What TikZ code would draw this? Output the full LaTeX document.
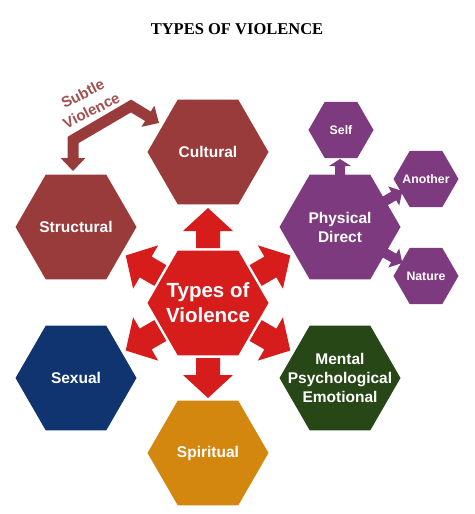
\documentclass[tikz,border=0pt]{standalone}
\usepackage{fontspec}
\setmainfont{Liberation Sans}
\newfontfamily\titlefont{Liberation Serif}
\usetikzlibrary{shapes.geometric,arrows.meta}
\definecolor{culred}{HTML}{9A3B3B}
\definecolor{ctrred}{HTML}{D71C1C}
\definecolor{purp}{HTML}{7E3A7F}
\definecolor{navy}{HTML}{103470}
\definecolor{dgreen}{HTML}{274716}
\definecolor{orng}{HTML}{D4870F}
\definecolor{subtletxt}{HTML}{A24F4F}
\begin{document}
\begin{tikzpicture}[x=1pt,y=-1pt,
  hexbig/.style={regular polygon, regular polygon sides=6, minimum size=121pt, inner sep=0pt, outer sep=0pt, draw=none},
  hexsmall/.style={regular polygon, regular polygon sides=6, minimum size=65pt, inner sep=0pt, outer sep=0pt, draw=none},
  lbl/.style={text=white, font=\bfseries\fontsize{15.5}{19}\selectfont, align=center, inner sep=0pt},
  lblsmall/.style={text=white, font=\bfseries\fontsize{12.3}{15}\selectfont, align=center, inner sep=0pt},
  blockarrow/.style={fill=ctrred},
  smallarrow/.style={fill=purp}]
\fill[white] (0,0) rectangle (474,514);
\useasboundingbox (0,0) rectangle (474,514);

\node[font=\titlefont\bfseries\fontsize{16.5}{20}\selectfont, inner sep=0pt] (title) at (237,29) {TYPES OF VIOLENCE};

% big hexagons
\node[hexbig, fill=culred] (cultural) at (208,152) {};
\node[hexbig, fill=culred] (structural) at (76,227) {};
\node[hexbig, fill=ctrred] (ctr) at (208,303) {};
\node[hexbig, fill=purp] (physical) at (340,227) {};
\node[hexbig, fill=navy] (sexual) at (76,378) {};
\node[hexbig, fill=dgreen] (mental) at (340,378) {};
\node[hexbig, fill=orng] (spiritual) at (208,453) {};

% small hexagons
\node[hexsmall, fill=purp] (self) at (341,130) {};
\node[hexsmall, fill=purp] (another) at (426,179) {};
\node[hexsmall, fill=purp] (nature) at (426,276) {};

% labels
\node[lbl] (cultural-t) at (cultural.center) {Cultural};
\node[lbl] (structural-t) at (structural.center) {Structural};
\node[lbl] (physical-t) at (physical.center) {Physical\\Direct};
\node[lbl] (sexual-t) at (sexual.center) {Sexual};
\node[lbl] (mental-t) at (mental.center) {Mental\\Psychological\\Emotional};
\node[lbl] (spiritual-t) at (spiritual.center) {Spiritual};
\node[text=white, font=\bfseries\fontsize{20.5}{25}\selectfont, align=center, inner sep=0pt] (ctr-t) at (ctr.center) {Types of\\Violence};
\node[lblsmall] (self-t) at (self.center) {Self};
\node[lblsmall] (another-t) at (another.center) {Another};
\node[lblsmall] (nature-t) at (nature.center) {Nature};

% block arrows from the centre
\foreach \a in {90,30,-30,-90,-150,150}{
  \fill[blockarrow, shift={(ctr.center)}, rotate=\a]
    (55,-12) -- (72,-12) -- (72,-25) -- (95,0) -- (72,25) -- (72,12) -- (55,12) -- cycle;
}

% small arrows from physical
\foreach \a/\b/\t in {90/61/68, 30/62/72, -30/62/72}{
  \fill[smallarrow, shift={(physical.center)}, rotate=\a]
    (51,-5) -- (\b,-5) -- (\b,-11) -- (\t,0) -- (\b,11) -- (\b,5) -- (51,5) -- cycle;
}

% subtle violence arrow
\coordinate (s1) at (73,171);
\coordinate (s2) at (73,140);
\coordinate (s3) at (131,106);
\coordinate (s4) at (159,123);
\draw[culred, line width=11pt, line join=miter,
  {Triangle[width=24pt,length=13pt]}-{Triangle[width=24pt,length=13pt]}]
  (s1) -- (s2) -- (s3) -- (s4);
\node[text=subtletxt, font=\bfseries\fontsize{15}{19}\selectfont, align=center, rotate=27, inner sep=0pt] (subtle) at (87,102) {Subtle\\Violence};
\end{tikzpicture}
\end{document}
